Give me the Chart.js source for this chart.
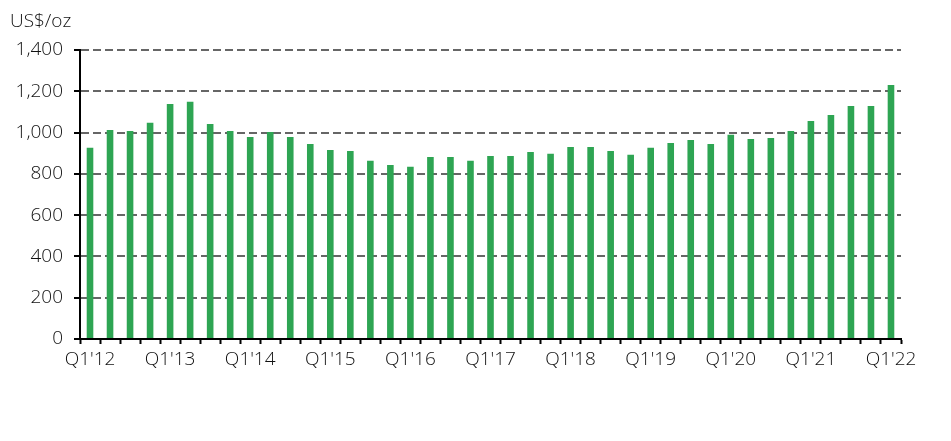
<!DOCTYPE html>
<html>
<head>
<meta charset="utf-8">
<script src="https://cdn.jsdelivr.net/npm/chart.js@4/dist/chart.umd.min.js"></script>
<style>
html,body{margin:0;padding:0;background:#fff;}
#wrap{width:951px;height:441px;position:relative;}
</style>
</head>
<body>
<div id="wrap"><canvas id="c" width="951" height="441"></canvas></div>
<script>
const quarters = [
  "Q1'12","Q2'12","Q3'12","Q4'12",
  "Q1'13","Q2'13","Q3'13","Q4'13",
  "Q1'14","Q2'14","Q3'14","Q4'14",
  "Q1'15","Q2'15","Q3'15","Q4'15",
  "Q1'16","Q2'16","Q3'16","Q4'16",
  "Q1'17","Q2'17","Q3'17","Q4'17",
  "Q1'18","Q2'18","Q3'18","Q4'18",
  "Q1'19","Q2'19","Q3'19","Q4'19",
  "Q1'20","Q2'20","Q3'20","Q4'20",
  "Q1'21","Q2'21","Q3'21","Q4'21",
  "Q1'22"
];
const costPerOz = [
  926, 1013, 1008, 1047,
  1139, 1149, 1042, 1008,
  979, 1003, 979, 945,
  916, 911, 863, 843,
  834, 882, 882, 863,
  887, 887, 906, 897,
  930, 930, 911, 892,
  926, 950, 964, 945,
  989, 969, 974, 1008,
  1056, 1085, 1129, 1129,
  1230
];
const unitLabel = "US$/oz";
const yMax = 1400;
const yStep = 200;

const FONT = '"Open Sans", "DejaVu Sans", sans-serif';
const FSIZE = 19;
const FWEIGHT = 300;
const TEXT = '#111';

const unitPlugin = {
  id: 'unitLabel',
  afterDraw(chart) {
    const ctx = chart.ctx;
    ctx.save();
    ctx.font = FWEIGHT + ' ' + FSIZE + 'px ' + FONT;
    ctx.fillStyle = TEXT;
    ctx.textAlign = 'left';
    ctx.textBaseline = 'middle';
    ctx.fillText(unitLabel, 10, 22);
    ctx.restore();
  }
};

new Chart(document.getElementById('c'), {
  type: 'bar',
  data: {
    labels: quarters,
    datasets: [{
      data: costPerOz,
      backgroundColor: 'rgb(46,165,83)',
      borderWidth: 0,
      barPercentage: 0.33,
      categoryPercentage: 1.0
    }]
  },
  options: {
    responsive: false,
    animation: false,
    devicePixelRatio: 1,
    layout: { padding: { top: 50, right: 50, bottom: 62, left: 0 } },
    plugins: {
      legend: { display: false },
      tooltip: { enabled: false }
    },
    scales: {
      x: {
        offset: true,
        afterFit(s) { s.height = 40; },
        border: { display: true, color: '#000', width: 2 },
        grid: {
          display: true,
          offset: true,
          drawOnChartArea: false,
          drawTicks: true,
          tickLength: 5,
          tickColor: '#000',
          tickWidth: 2
        },
        ticks: {
          autoSkip: false,
          maxRotation: 0,
          minRotation: 0,
          padding: 4,
          color: TEXT,
          font: { family: FONT, size: FSIZE, weight: FWEIGHT },
          callback(v, i) { return i % 4 === 0 ? quarters[i] : ''; }
        }
      },
      y: {
        min: 0,
        max: yMax,
        afterFit(s) { s.width = 80; },
        border: { display: true, color: '#000', width: 2, dash: [8, 4] },
        grid: {
          color(ctx) { return ctx.tick && ctx.tick.value === 0 ? 'rgba(0,0,0,0)' : '#666'; },
          lineWidth: 2,
          drawTicks: true,
          tickLength: 6,
          tickColor: '#000',
          tickWidth: 2,
          tickBorderDash: []
        },
        ticks: {
          stepSize: yStep,
          padding: 11,
          color: TEXT,
          font: { family: FONT, size: FSIZE, weight: FWEIGHT },
          callback(v) { return v.toLocaleString('en-US'); }
        }
      }
    }
  },
  plugins: [unitPlugin]
});
</script>
</body>
</html>
